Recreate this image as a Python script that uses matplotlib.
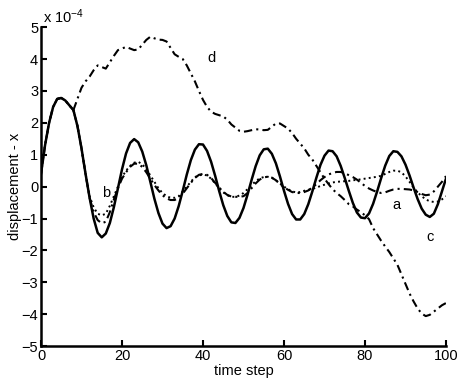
import numpy as np
import matplotlib.pyplot as plt

plt.rcParams['font.family'] = ['Liberation Sans', 'DejaVu Sans']
plt.rcParams['mathtext.fontset'] = 'custom'
plt.rcParams['mathtext.rm'] = 'Liberation Sans'
plt.rcParams['mathtext.it'] = 'Liberation Sans'

steps = np.arange(0, 101)

# values in units of 1e-4, one per time step
solid = [0.4, 1.3, 2.0, 2.5, 2.75, 2.78, 2.7, 2.55, 2.4, 1.9,
         1.2, 0.4, -0.35, -1.0, -1.45, -1.59, -1.47, -1.14, -0.64, -0.05,
         0.54, 1.04, 1.37, 1.49, 1.39, 1.10, 0.67, 0.15, -0.38, -0.83,
         -1.16, -1.30, -1.24, -1.0, -0.61, -0.13, 0.38, 0.83, 1.16, 1.33,
         1.32, 1.12, 0.78, 0.34, -0.14, -0.58, -0.92, -1.12, -1.14, -0.98,
         -0.67, -0.25, 0.21, 0.64, 0.98, 1.17, 1.19, 1.03, 0.73, 0.32,
         -0.13, -0.54, -0.86, -1.03, -1.03, -0.86, -0.55, -0.15, 0.28, 0.68,
         0.97, 1.13, 1.11, 0.95, 0.65, 0.27, -0.13, -0.51, -0.81, -0.97,
         -0.99, -0.84, -0.54, -0.15, 0.27, 0.66, 0.96, 1.11, 1.09, 0.95,
         0.69, 0.35, -0.03, -0.39, -0.69, -0.88, -0.95, -0.85, -0.55, -0.15,
         0.25]

dotted = [0.4, 1.3, 2.0, 2.5, 2.75, 2.78, 2.7, 2.55, 2.4, 1.9,
          1.2, 0.4, -0.3, -0.65, -0.85, -0.9, -0.85, -0.6, -0.3, 0.0,
          0.3, 0.5, 0.65, 0.75, 0.78, 0.7, 0.55, 0.35, 0.15, -0.05,
          -0.2, -0.3, -0.35, -0.35, -0.3, -0.15, 0.0, 0.15, 0.3, 0.35,
          0.38, 0.35, 0.25, 0.1, -0.05, -0.18, -0.27, -0.32, -0.32, -0.28,
          -0.2, -0.08, 0.05, 0.17, 0.26, 0.3, 0.31, 0.28, 0.2, 0.1,
          0.0, -0.08, -0.15, -0.18, -0.17, -0.13, -0.1, -0.07, -0.03, 0.02,
          0.06, 0.1, 0.13, 0.15, 0.16, 0.17, 0.18, 0.2, 0.21, 0.23,
          0.25, 0.27, 0.29, 0.31, 0.34, 0.4, 0.46, 0.5, 0.5, 0.45,
          0.32, 0.15, -0.03, -0.18, -0.3, -0.4, -0.46, -0.48, -0.47, -0.4,
          -0.3]

dashdot_a = [0.4, 1.3, 2.0, 2.5, 2.75, 2.78, 2.7, 2.55, 2.4, 1.9,
             1.2, 0.4, -0.35, -0.8, -1.05, -1.15, -1.1, -0.8, -0.4, -0.05,
             0.25, 0.45, 0.62, 0.72, 0.72, 0.62, 0.45, 0.25, 0.05, -0.12,
             -0.27, -0.37, -0.42, -0.42, -0.35, -0.22, -0.05, 0.12, 0.27, 0.37,
             0.4, 0.37, 0.27, 0.12, -0.03, -0.16, -0.26, -0.31, -0.32, -0.32,
             -0.3, -0.2, -0.05, 0.1, 0.22, 0.29, 0.31, 0.28, 0.2, 0.08,
             -0.02, -0.1, -0.17, -0.2, -0.2, -0.17, -0.12, -0.03, 0.08, 0.2,
             0.3, 0.38, 0.43, 0.46, 0.46, 0.42, 0.36, 0.3, 0.22, 0.12,
             0.02, -0.06, -0.12, -0.17, -0.2, -0.18, -0.13, -0.09, -0.07, -0.07,
             -0.08, -0.09, -0.12, -0.17, -0.23, -0.27, -0.25, -0.15, 0.0, 0.15,
             0.33]

d_steps = np.arange(8, 101)
dashdot_d = [2.4, 2.75, 3.1, 3.3, 3.45, 3.65, 3.8, 3.75, 3.7, 3.9,
             4.1, 4.28, 4.33, 4.38, 4.33, 4.28, 4.3, 4.45, 4.6, 4.7,
             4.65, 4.61, 4.6, 4.55, 4.35, 4.15, 4.07, 4.0, 3.8, 3.55,
             3.3, 3.0, 2.72, 2.5, 2.35, 2.28, 2.24, 2.2, 2.1, 1.95,
             1.85, 1.75, 1.72, 1.74, 1.77, 1.8, 1.79, 1.77, 1.78, 1.88,
             1.98, 1.98, 1.9, 1.82, 1.68, 1.5, 1.35, 1.2, 1.0, 0.85,
             0.65, 0.45, 0.25, 0.08, -0.08, -0.2, -0.3, -0.42, -0.55, -0.62,
             -0.72, -0.8, -0.9, -1.02, -1.3, -1.5, -1.7, -1.88, -2.05, -2.25,
             -2.45, -2.75, -3.05, -3.35, -3.6, -3.82, -3.98, -4.06, -4.02, -3.92,
             -3.82, -3.72, -3.65]

labels = ['a', 'b', 'c', 'd']
label_x = [87.7, 16.0, 96.0, 42.1]
label_y = [-0.58, -0.21, -1.57, 4.03]

fig = plt.figure(figsize=(4.74, 3.88), dpi=100)
ax = fig.add_axes([0.0865, 0.108, 0.8544, 0.822])

dd = (0, (4, 2, 1, 2))
ax.plot(steps, solid, color='k', lw=1.8, ls='-')
ax.plot(steps, dotted, color='k', lw=1.4, ls=':')
ax.plot(steps, dashdot_a, color='k', lw=1.5, ls=dd)
ax.plot(d_steps, dashdot_d, color='k', lw=1.5, ls=dd)

for t, x, y in zip(labels, label_x, label_y):
    ax.text(x, y, t, fontsize=10.5, ha='center', va='center')

ax.set_xlim(0, 100)
ax.set_ylim(-5, 5)
ax.set_xticks([0, 20, 40, 60, 80, 100])
ax.set_yticks(np.arange(-5, 6))
ax.spines['top'].set_visible(False)
ax.spines['right'].set_visible(False)
ax.spines['left'].set_linewidth(1.8)
ax.spines['bottom'].set_linewidth(1.8)
ax.tick_params(direction='in', length=4, width=1.5, labelsize=10.5, pad=2)
ax.set_xlabel('time step', fontsize=10.5, labelpad=1)
ax.set_ylabel('displacement - x', fontsize=10.5, labelpad=0)
ax.text(0.005, 1.005, r'x 10$^{-4}$', transform=ax.transAxes, fontsize=10.5,
        ha='left', va='bottom')

fig.savefig('out.png', dpi=100)
